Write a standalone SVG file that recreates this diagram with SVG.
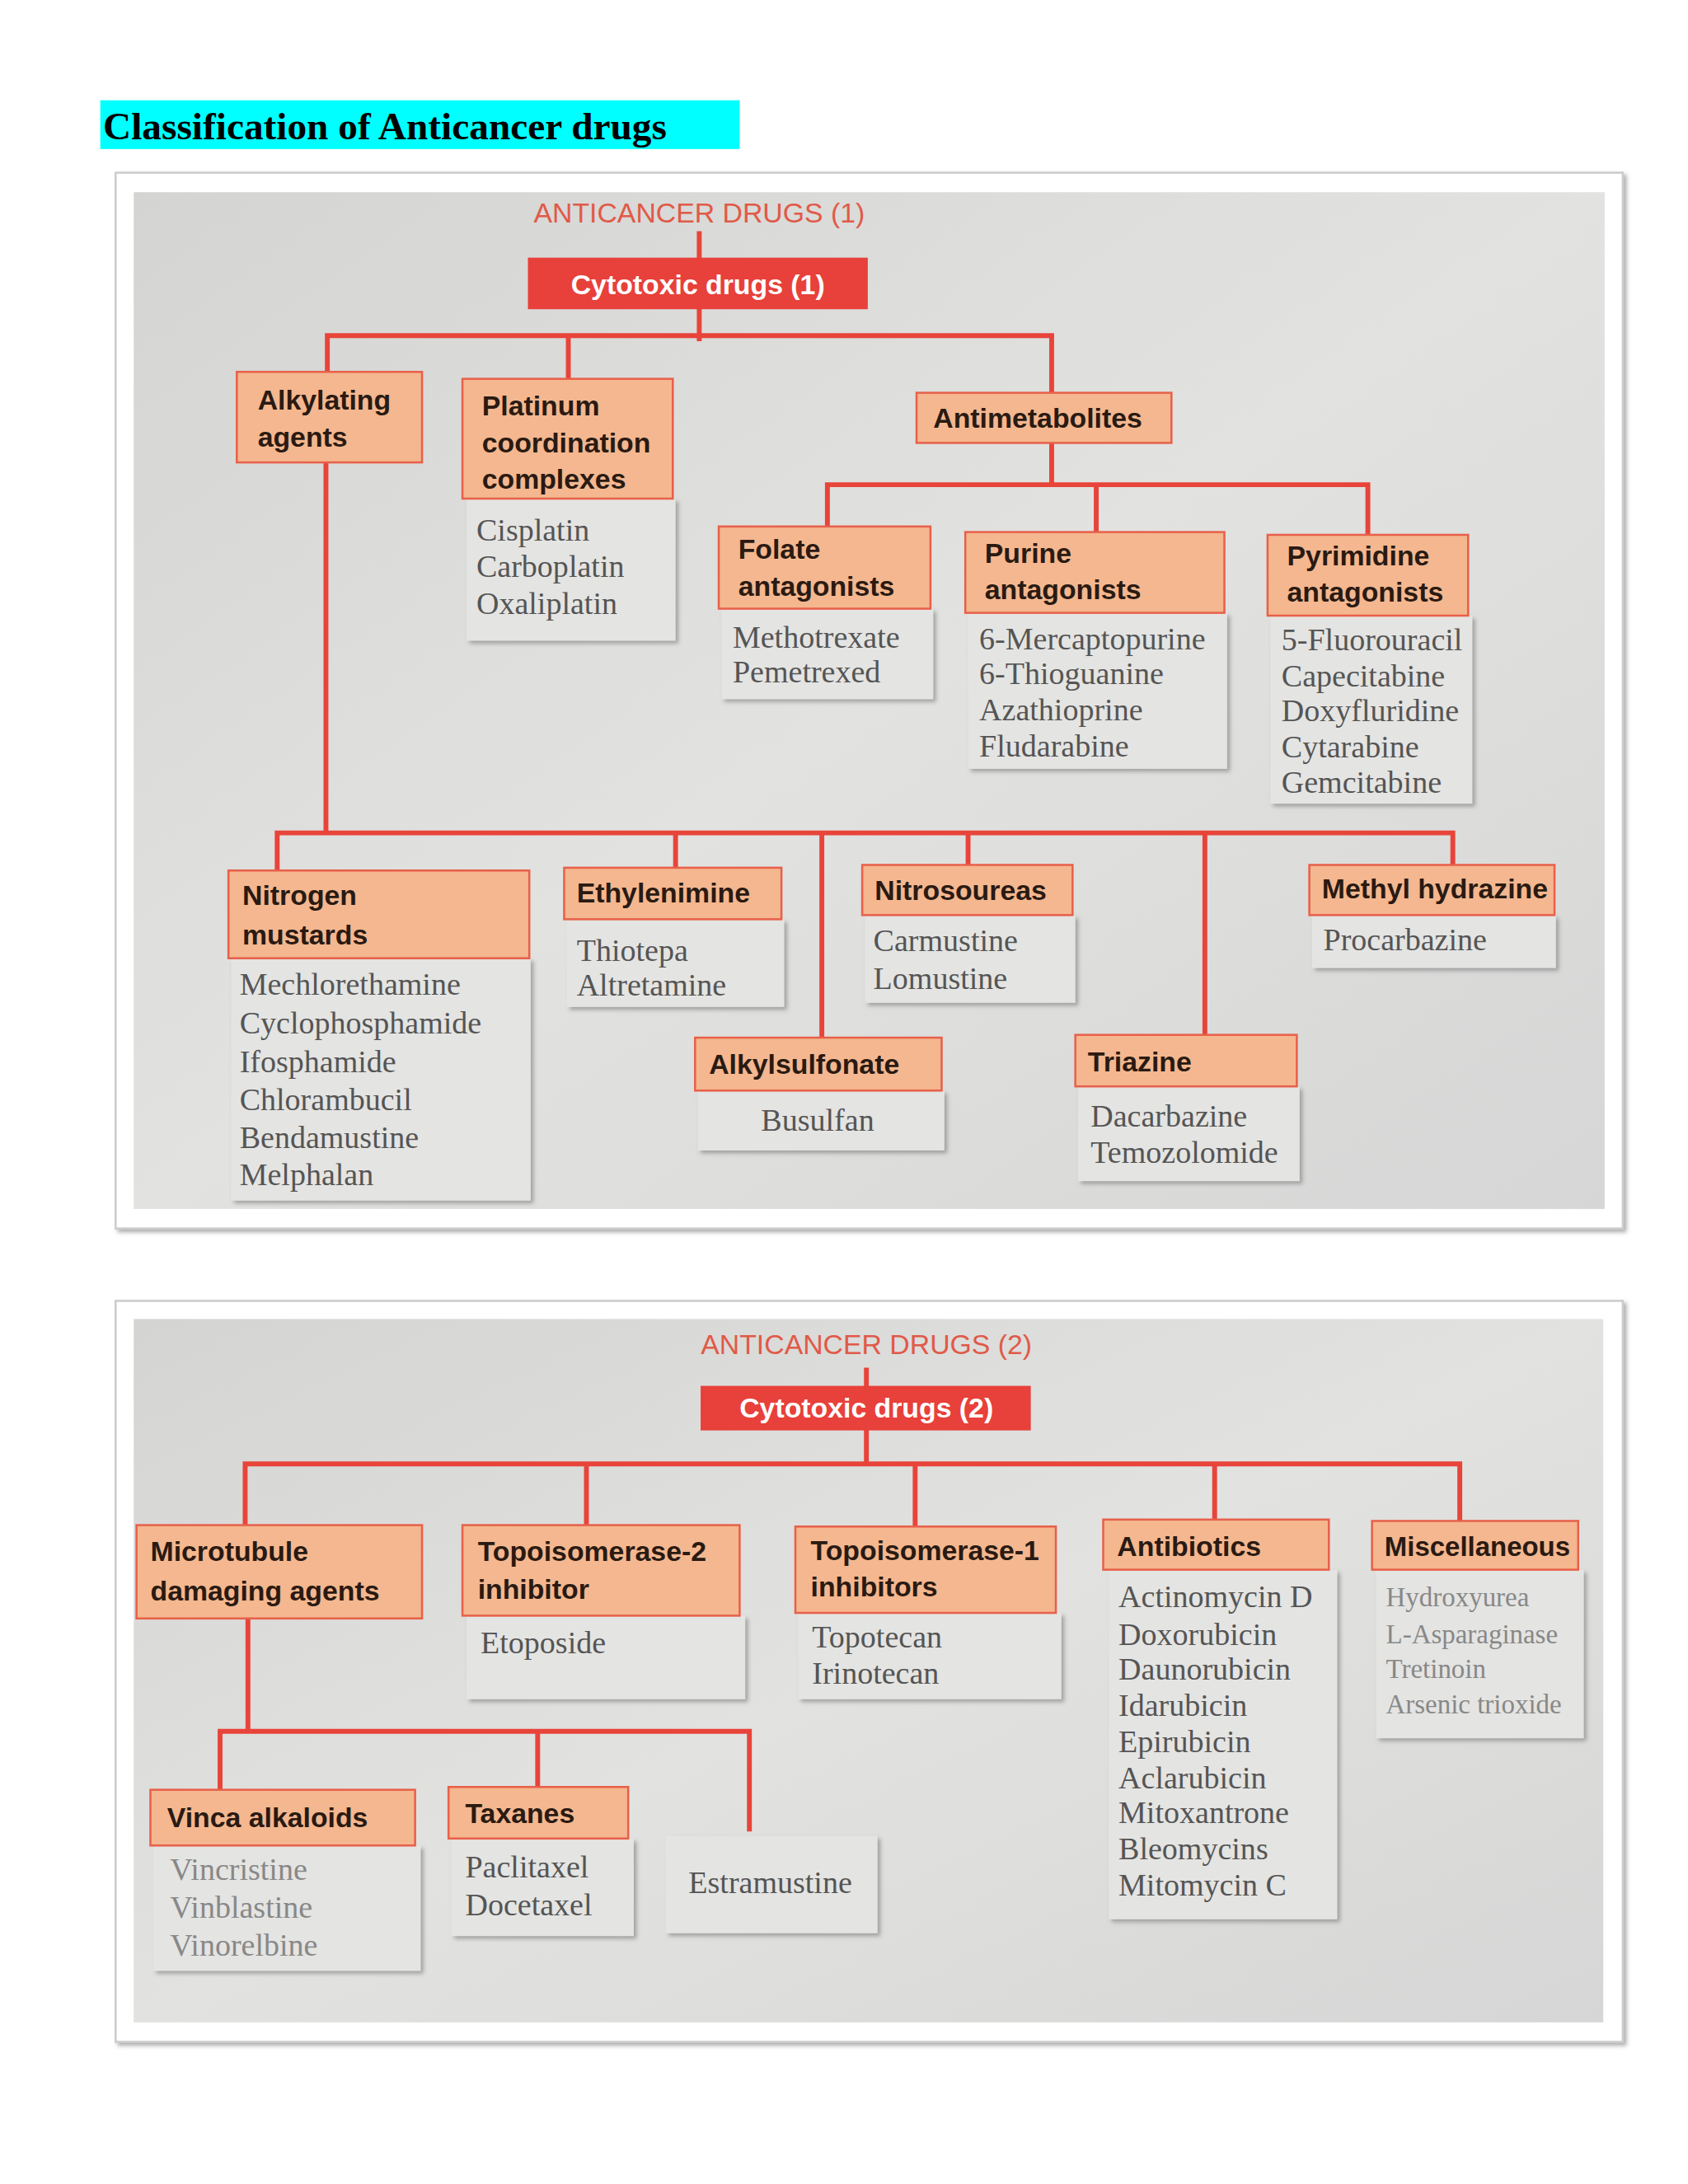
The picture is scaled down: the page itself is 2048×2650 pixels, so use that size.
<svg xmlns="http://www.w3.org/2000/svg" width="2048" height="2650" viewBox="0 0 2048 2650">
<defs>
<linearGradient id="pg" x1="0" y1="0" x2="1" y2="1"><stop offset="0" stop-color="#d4d4d2"/><stop offset="0.5" stop-color="#e2e2e0"/><stop offset="1" stop-color="#d6d6d6"/></linearGradient>
<filter id="sh" x="-10%" y="-10%" width="130%" height="130%"><feDropShadow dx="2" dy="2" stdDeviation="1.5" flood-color="#777" flood-opacity="0.6"/></filter>
<style>
.frame{fill:#fff;stroke:#ccc;stroke-width:1.5}
.panel{fill:url(#pg)}
.ln{stroke:#e8443a;stroke-width:3.5;fill:none}
.hd{fill:#f4b78f;stroke:#e8604a;stroke-width:1.5}
.bd{fill:#e4e4e2;filter:url(#sh)}
.ht{font-family:"Liberation Sans",Arial,sans-serif;font-weight:bold;font-size:20px;fill:#2a1a12}
.bt{font-family:"Liberation Serif","Times New Roman",serif;font-size:22.5px;fill:#555}
.lt{fill:#888}
.sm{font-size:19.5px}
.top{font-family:"Liberation Sans",Arial,sans-serif;font-size:20px;fill:#e05a48;text-anchor:middle}
.cy{font-family:"Liberation Sans",Arial,sans-serif;font-weight:bold;font-size:20px;fill:#fff;text-anchor:middle}
</style>
</defs>
<rect width="2048" height="2650" fill="#fff"/>
<g transform="scale(1.69 1.69)">
<g id="title"><rect x="72" y="72" width="459" height="35" fill="#00ffff"/><text x="74" y="100" font-family="Liberation Serif,serif" font-weight="bold" font-size="28" fill="#000">Classification of Anticancer drugs</text></g>
<g id="panel1"><rect class="frame" x="83" y="124" width="1082" height="758" filter="url(#sh)"/><rect class="panel" x="96" y="138" width="1056" height="730"/></g>
<g id="panel2"><rect class="frame" x="83" y="934" width="1082" height="532" filter="url(#sh)"/><rect class="panel" x="96" y="947" width="1055" height="505"/></g>
<g id="connectors">
<path class="ln" d="M502 166V245M235 268V241H755V282M408 241V272M755 318V348M594 378V348H982V384M787 348V382"/>
<path class="ln" d="M234 332V598M199 625V598H1043V621M485 598V623M590 598V745M695 598V621M865 598V743"/>
<path class="ln" d="M622 982V1051M176 1095V1051H1048V1092M421 1051V1095M657 1051V1096M872 1051V1091"/>
<path class="ln" d="M178 1162V1243M158 1285V1243H538V1315M386 1243V1283"/>
</g>
<g id="root1"><text class="top" x="502" y="160">ANTICANCER DRUGS (1)</text><rect x="379" y="185" width="244" height="37" fill="#e8403a"/><text class="cy" x="501" y="211">Cytotoxic drugs (1)</text></g>
<g id="alkylating"><rect class="hd" x="170" y="267" width="133" height="65"/><text class="ht" x="185" y="294">Alkylating</text><text class="ht" x="185" y="321">agents</text></g>
<g id="platinum"><rect class="bd" x="335" y="358" width="150" height="102"/><rect class="hd" x="332" y="272" width="151" height="86"/><text class="ht" x="346" y="298">Platinum</text><text class="ht" x="346" y="325">coordination</text><text class="ht" x="346" y="351">complexes</text><text class="bt" x="342" y="388">Cisplatin</text><text class="bt" x="342" y="414">Carboplatin</text><text class="bt" x="342" y="441">Oxaliplatin</text></g>
<g id="antimetabolites"><rect class="hd" x="658" y="282" width="183" height="36"/><text class="ht" x="670" y="307">Antimetabolites</text></g>
<g id="folate"><rect class="bd" x="518" y="437" width="152" height="65"/><rect class="hd" x="516" y="378" width="152" height="59"/><text class="ht" x="530" y="401">Folate</text><text class="ht" x="530" y="428">antagonists</text><text class="bt" x="526" y="465">Methotrexate</text><text class="bt" x="526" y="490">Pemetrexed</text></g>
<g id="purine"><rect class="bd" x="695" y="440" width="186" height="112"/><rect class="hd" x="693" y="382" width="186" height="58"/><text class="ht" x="707" y="404">Purine</text><text class="ht" x="707" y="430">antagonists</text><text class="bt" x="703" y="466">6-Mercaptopurine</text><text class="bt" x="703" y="491">6-Thioguanine</text><text class="bt" x="703" y="517">Azathioprine</text><text class="bt" x="703" y="543">Fludarabine</text></g>
<g id="pyrimidine"><rect class="bd" x="912" y="442" width="145" height="135"/><rect class="hd" x="910" y="384" width="144" height="58"/><text class="ht" x="924" y="406">Pyrimidine</text><text class="ht" x="924" y="432">antagonists</text><text class="bt" x="920" y="467">5-Fluorouracil</text><text class="bt" x="920" y="493">Capecitabine</text><text class="bt" x="920" y="518">Doxyfluridine</text><text class="bt" x="920" y="544">Cytarabine</text><text class="bt" x="920" y="569">Gemcitabine</text></g>
<g id="nitrogen"><rect class="bd" x="166" y="688" width="215" height="174"/><rect class="hd" x="164" y="625" width="216" height="63"/><text class="ht" x="174" y="650">Nitrogen</text><text class="ht" x="174" y="678">mustards</text><text class="bt" x="172" y="714">Mechlorethamine</text><text class="bt" x="172" y="742">Cyclophosphamide</text><text class="bt" x="172" y="770">Ifosphamide</text><text class="bt" x="172" y="797">Chlorambucil</text><text class="bt" x="172" y="824">Bendamustine</text><text class="bt" x="172" y="851">Melphalan</text></g>
<g id="ethylenimine"><rect class="bd" x="407" y="660" width="156" height="63"/><rect class="hd" x="405" y="623" width="156" height="37"/><text class="ht" x="414" y="648">Ethylenimine</text><text class="bt" x="414" y="690">Thiotepa</text><text class="bt" x="414" y="715">Altretamine</text></g>
<g id="alkylsulfonate"><rect class="bd" x="501" y="783" width="177" height="43"/><rect class="hd" x="499" y="745" width="177" height="38"/><text class="ht" x="509" y="771">Alkylsulfonate</text><text class="bt" x="587" y="812" text-anchor="middle">Busulfan</text></g>
<g id="nitrosoureas"><rect class="bd" x="621" y="657" width="151" height="63"/><rect class="hd" x="619" y="621" width="151" height="36"/><text class="ht" x="628" y="646">Nitrosoureas</text><text class="bt" x="627" y="683">Carmustine</text><text class="bt" x="627" y="710">Lomustine</text></g>
<g id="triazine"><rect class="bd" x="774" y="780" width="159" height="68"/><rect class="hd" x="772" y="743" width="159" height="37"/><text class="ht" x="781" y="769">Triazine</text><text class="bt" x="783" y="809">Dacarbazine</text><text class="bt" x="783" y="835">Temozolomide</text></g>
<g id="methylhydrazine"><rect class="bd" x="942" y="657" width="175" height="38"/><rect class="hd" x="940" y="621" width="176" height="36"/><text class="ht" x="949" y="645">Methyl hydrazine</text><text class="bt" x="950" y="682">Procarbazine</text></g>
<g id="root2"><text class="top" x="622" y="972">ANTICANCER DRUGS (2)</text><rect x="503" y="995" width="237" height="32" fill="#e8403a"/><text class="cy" x="622" y="1018">Cytotoxic drugs (2)</text></g>
<g id="microtubule"><rect class="hd" x="98" y="1095" width="205" height="67"/><text class="ht" x="108" y="1121">Microtubule</text><text class="ht" x="108" y="1149">damaging agents</text></g>
<g id="topo2"><rect class="bd" x="335" y="1160" width="200" height="60"/><rect class="hd" x="332" y="1095" width="199" height="65"/><text class="ht" x="343" y="1121">Topoisomerase-2</text><text class="ht" x="343" y="1148">inhibitor</text><text class="bt" x="345" y="1187">Etoposide</text></g>
<g id="topo1"><rect class="bd" x="573" y="1158" width="189" height="62"/><rect class="hd" x="571" y="1096" width="187" height="62"/><text class="ht" x="582" y="1120">Topoisomerase-1</text><text class="ht" x="582" y="1146">inhibitors</text><text class="bt" x="583" y="1183">Topotecan</text><text class="bt" x="583" y="1209">Irinotecan</text></g>
<g id="antibiotics"><rect class="bd" x="796" y="1127" width="164" height="251"/><rect class="hd" x="792" y="1091" width="162" height="36"/><text class="ht" x="802" y="1117">Antibiotics</text><text class="bt" x="803" y="1154">Actinomycin D</text><text class="bt" x="803" y="1181">Doxorubicin</text><text class="bt" x="803" y="1206">Daunorubicin</text><text class="bt" x="803" y="1232">Idarubicin</text><text class="bt" x="803" y="1258">Epirubicin</text><text class="bt" x="803" y="1284">Aclarubicin</text><text class="bt" x="803" y="1309">Mitoxantrone</text><text class="bt" x="803" y="1335">Bleomycins</text><text class="bt" x="803" y="1361">Mitomycin C</text></g>
<g id="misc"><rect class="bd" x="988" y="1127" width="149" height="121"/><rect class="hd" x="985" y="1092" width="148" height="35"/><text class="ht sm" x="994" y="1117">Miscellaneous</text><text class="bt lt sm" x="995" y="1153">Hydroxyurea</text><text class="bt lt sm" x="995" y="1180">L-Asparaginase</text><text class="bt lt sm" x="995" y="1205">Tretinoin</text><text class="bt lt sm" x="995" y="1230">Arsenic trioxide</text></g>
<g id="vinca"><rect class="bd" x="110" y="1325" width="192" height="90"/><rect class="hd" x="108" y="1285" width="190" height="40"/><text class="ht" x="120" y="1312">Vinca alkaloids</text><text class="bt lt" x="122" y="1350">Vincristine</text><text class="bt lt" x="122" y="1377">Vinblastine</text><text class="bt lt" x="122" y="1404">Vinorelbine</text></g>
<g id="taxanes"><rect class="bd" x="324" y="1320" width="131" height="70"/><rect class="hd" x="322" y="1283" width="129" height="37"/><text class="ht" x="334" y="1309">Taxanes</text><text class="bt" x="334" y="1348">Paclitaxel</text><text class="bt" x="334" y="1375">Docetaxel</text></g>
<g id="estramustine"><rect class="bd" x="478" y="1318" width="152" height="70"/><text class="bt" x="553" y="1359" text-anchor="middle">Estramustine</text></g>
</g>
</svg>
